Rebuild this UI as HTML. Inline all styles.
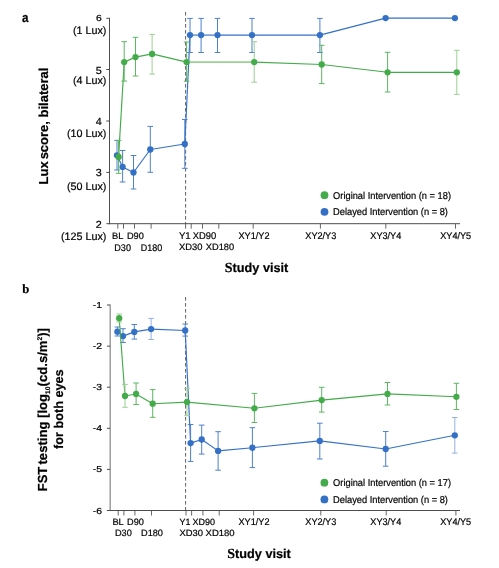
<!DOCTYPE html>
<html><head><meta charset="utf-8"><title>Figure</title>
<style>
html,body{margin:0;padding:0;background:#fff;}
svg{display:block;font-family:"Liberation Sans",Arial,sans-serif;fill:#000;}
text{stroke:#000;stroke-width:0.2px;text-rendering:geometricPrecision;}
</style></head><body>
<svg width="499" height="568" viewBox="0 0 499 568">
<rect width="499" height="568" fill="#fff"/>
<line x1="109.5" y1="17.8" x2="109.5" y2="224.2" stroke="#4d4d4d" stroke-width="1"/>
<line x1="109" y1="223.7" x2="460" y2="223.7" stroke="#4d4d4d" stroke-width="1"/>
<line x1="106.3" y1="18.3" x2="109.5" y2="18.3" stroke="#4d4d4d" stroke-width="1"/>
<line x1="106.3" y1="69.5" x2="109.5" y2="69.5" stroke="#4d4d4d" stroke-width="1"/>
<line x1="106.3" y1="121.0" x2="109.5" y2="121.0" stroke="#4d4d4d" stroke-width="1"/>
<line x1="106.3" y1="172.4" x2="109.5" y2="172.4" stroke="#4d4d4d" stroke-width="1"/>
<line x1="106.3" y1="223.7" x2="109.5" y2="223.7" stroke="#4d4d4d" stroke-width="1"/>
<line x1="117.8" y1="223.7" x2="117.8" y2="228.7" stroke="#4d4d4d" stroke-width="0.85"/>
<line x1="123.5" y1="223.7" x2="123.5" y2="228.7" stroke="#4d4d4d" stroke-width="0.85"/>
<line x1="134.5" y1="223.7" x2="134.5" y2="228.7" stroke="#4d4d4d" stroke-width="0.85"/>
<line x1="151.1" y1="223.7" x2="151.1" y2="228.7" stroke="#4d4d4d" stroke-width="0.85"/>
<line x1="185.6" y1="223.7" x2="185.6" y2="228.7" stroke="#4d4d4d" stroke-width="0.85"/>
<line x1="191.2" y1="223.7" x2="191.2" y2="228.7" stroke="#4d4d4d" stroke-width="0.85"/>
<line x1="202.5" y1="223.7" x2="202.5" y2="228.7" stroke="#4d4d4d" stroke-width="0.85"/>
<line x1="218.8" y1="223.7" x2="218.8" y2="228.7" stroke="#4d4d4d" stroke-width="0.85"/>
<line x1="253.2" y1="223.7" x2="253.2" y2="228.7" stroke="#4d4d4d" stroke-width="0.85"/>
<line x1="320.4" y1="223.7" x2="320.4" y2="228.7" stroke="#4d4d4d" stroke-width="0.85"/>
<line x1="385.8" y1="223.7" x2="385.8" y2="228.7" stroke="#4d4d4d" stroke-width="0.85"/>
<line x1="455.5" y1="223.7" x2="455.5" y2="228.7" stroke="#4d4d4d" stroke-width="0.85"/>
<line x1="185.6" y1="12" x2="185.6" y2="223.7" stroke="#444" stroke-width="0.85" stroke-dasharray="3.6 2.4"/>
<line x1="117.0" y1="155.3" x2="122.6" y2="166.9" stroke="#3471C6" stroke-width="1.15"/>
<line x1="122.6" y1="166.9" x2="133.5" y2="172.5" stroke="#3471C6" stroke-width="1.15"/>
<line x1="133.5" y1="172.5" x2="150.3" y2="149.5" stroke="#3471C6" stroke-width="1.15"/>
<line x1="150.3" y1="149.5" x2="184.8" y2="144.0" stroke="#3471C6" stroke-width="1.15"/>
<line x1="184.8" y1="144.0" x2="190.0" y2="35.1" stroke="#3471C6" stroke-width="1.15"/>
<line x1="190.0" y1="35.1" x2="201.1" y2="35.1" stroke="#3471C6" stroke-width="1.15"/>
<line x1="201.1" y1="35.1" x2="217.5" y2="35.1" stroke="#3471C6" stroke-width="1.15"/>
<line x1="217.5" y1="35.1" x2="252.0" y2="35.1" stroke="#3471C6" stroke-width="1.15"/>
<line x1="252.0" y1="35.1" x2="319.9" y2="35.1" stroke="#3471C6" stroke-width="1.15"/>
<line x1="319.9" y1="35.1" x2="385.6" y2="18.1" stroke="#3471C6" stroke-width="1.15"/>
<line x1="385.6" y1="18.1" x2="454.9" y2="18.1" stroke="#3471C6" stroke-width="1.15"/>
<path d="M117.0 140.4V170.0M114.2 140.4H119.8M114.2 170.0H119.8" stroke="#4F81CC" stroke-width="1.0" fill="none"/>
<path d="M122.6 150.5V182.0M119.8 150.5H125.39999999999999M119.8 182.0H125.39999999999999" stroke="#4F81CC" stroke-width="1.0" fill="none"/>
<path d="M133.5 155.5V189.0M130.7 155.5H136.3M130.7 189.0H136.3" stroke="#4F81CC" stroke-width="1.0" fill="none"/>
<path d="M150.3 126.4V172.3M147.5 126.4H153.10000000000002M147.5 172.3H153.10000000000002" stroke="#4F81CC" stroke-width="1.0" fill="none"/>
<path d="M184.8 119.5V168.3M182.0 119.5H187.60000000000002M182.0 168.3H187.60000000000002" stroke="#4F81CC" stroke-width="1.0" fill="none"/>
<path d="M190.0 18.4V52.5M187.2 18.4H192.8M187.2 52.5H192.8" stroke="#4F81CC" stroke-width="1.0" fill="none"/>
<path d="M201.1 18.4V52.5M198.29999999999998 18.4H203.9M198.29999999999998 52.5H203.9" stroke="#4F81CC" stroke-width="1.0" fill="none"/>
<path d="M217.5 18.4V52.5M214.7 18.4H220.3M214.7 52.5H220.3" stroke="#4F81CC" stroke-width="1.0" fill="none"/>
<path d="M252.0 18.4V52.5M249.2 18.4H254.8M249.2 52.5H254.8" stroke="#4F81CC" stroke-width="1.0" fill="none"/>
<path d="M319.9 18.4V52.5M317.09999999999997 18.4H322.7M317.09999999999997 52.5H322.7" stroke="#4F81CC" stroke-width="1.0" fill="none"/>
<circle cx="117.0" cy="155.3" r="3.15" fill="#3471C6"/>
<circle cx="122.6" cy="166.9" r="3.15" fill="#3471C6"/>
<circle cx="133.5" cy="172.5" r="3.15" fill="#3471C6"/>
<circle cx="150.3" cy="149.5" r="3.15" fill="#3471C6"/>
<circle cx="184.8" cy="144.0" r="3.15" fill="#3471C6"/>
<circle cx="190.0" cy="35.1" r="3.15" fill="#3471C6"/>
<circle cx="201.1" cy="35.1" r="3.15" fill="#3471C6"/>
<circle cx="217.5" cy="35.1" r="3.15" fill="#3471C6"/>
<circle cx="252.0" cy="35.1" r="3.15" fill="#3471C6"/>
<circle cx="319.9" cy="35.1" r="3.15" fill="#3471C6"/>
<circle cx="385.6" cy="18.1" r="3.15" fill="#3471C6"/>
<circle cx="454.9" cy="18.1" r="3.15" fill="#3471C6"/>
<line x1="118.6" y1="157.0" x2="124.2" y2="62.1" stroke="#44AB4A" stroke-width="1.15"/>
<line x1="124.2" y1="62.1" x2="135.5" y2="57.1" stroke="#44AB4A" stroke-width="1.15"/>
<line x1="135.5" y1="57.1" x2="152.1" y2="53.9" stroke="#44AB4A" stroke-width="1.15"/>
<line x1="152.1" y1="53.9" x2="186.6" y2="62.1" stroke="#44AB4A" stroke-width="1.15"/>
<line x1="186.6" y1="62.1" x2="254.2" y2="62.1" stroke="#9CD193" stroke-width="1.7"/>
<line x1="254.2" y1="62.1" x2="321.7" y2="64.5" stroke="#44AB4A" stroke-width="1.15"/>
<line x1="321.7" y1="64.5" x2="387.6" y2="72.3" stroke="#44AB4A" stroke-width="1.15"/>
<line x1="387.6" y1="72.3" x2="456.8" y2="72.3" stroke="#44AB4A" stroke-width="1.15"/>
<path d="M118.6 140.4V173.3M115.8 140.4H121.39999999999999M115.8 173.3H121.39999999999999" stroke="#5DB661" stroke-width="1.0" fill="none"/>
<path d="M124.2 41.7V81.1M121.4 41.7H127.0M121.4 81.1H127.0" stroke="#5DB661" stroke-width="1.0" fill="none"/>
<path d="M135.5 37.3V76.0M132.7 37.3H138.3M132.7 76.0H138.3" stroke="#5DB661" stroke-width="1.0" fill="none"/>
<path d="M152.1 34.4V74.1M149.29999999999998 34.4H154.9M149.29999999999998 74.1H154.9" stroke="#9CD193" stroke-width="1.0" fill="none"/>
<path d="M186.6 42.0V81.2M183.79999999999998 42.0H189.4M183.79999999999998 81.2H189.4" stroke="#5DB661" stroke-width="1.0" fill="none"/>
<path d="M254.2 41.7V82.2M251.39999999999998 41.7H257.0M251.39999999999998 82.2H257.0" stroke="#9CD193" stroke-width="1.0" fill="none"/>
<path d="M321.7 45.3V83.6M318.9 45.3H324.5M318.9 83.6H324.5" stroke="#5DB661" stroke-width="1.0" fill="none"/>
<path d="M387.6 52.3V92.0M384.8 52.3H390.40000000000003M384.8 92.0H390.40000000000003" stroke="#5DB661" stroke-width="1.0" fill="none"/>
<path d="M456.8 50.3V94.4M454.0 50.3H459.6M454.0 94.4H459.6" stroke="#9CD193" stroke-width="1.0" fill="none"/>
<circle cx="118.6" cy="157.0" r="3.15" fill="#44AB4A"/>
<circle cx="124.2" cy="62.1" r="3.15" fill="#44AB4A"/>
<circle cx="135.5" cy="57.1" r="3.15" fill="#44AB4A"/>
<circle cx="152.1" cy="53.9" r="3.15" fill="#44AB4A"/>
<circle cx="186.6" cy="62.1" r="3.15" fill="#44AB4A"/>
<circle cx="254.2" cy="62.1" r="3.15" fill="#44AB4A"/>
<circle cx="321.7" cy="64.5" r="3.15" fill="#44AB4A"/>
<circle cx="387.6" cy="72.3" r="3.15" fill="#44AB4A"/>
<circle cx="456.8" cy="72.3" r="3.15" fill="#44AB4A"/>
<text transform="translate(22.1,21.7) scale(0.88,1)" font-size="13.18" text-anchor="start" font-weight="bold" stroke="none" >a</text>
<text transform="translate(101.7,21.1) scale(1.19,1)" font-size="8.74" text-anchor="end" font-weight="normal"  stroke-width="0.1">6</text>
<text transform="translate(106.4,34.0) scale(1,1)" font-size="10.75" text-anchor="end" font-weight="normal"  stroke-width="0.1">(1 Lux)</text>
<text transform="translate(101.8,73.5) scale(1.05,1)" font-size="10.29" text-anchor="end" font-weight="normal"  stroke-width="0.1">5</text>
<text transform="translate(106.4,84.3) scale(1,1)" font-size="10.75" text-anchor="end" font-weight="normal"  stroke-width="0.1">(4 Lux)</text>
<text transform="translate(101.8,124.6) scale(1.05,1)" font-size="10.29" text-anchor="end" font-weight="normal"  stroke-width="0.1">4</text>
<text transform="translate(106.4,136.9) scale(1,1)" font-size="10.75" text-anchor="end" font-weight="normal"  stroke-width="0.1">(10 Lux)</text>
<text transform="translate(101.8,176.4) scale(1.05,1)" font-size="10.29" text-anchor="end" font-weight="normal"  stroke-width="0.1">3</text>
<text transform="translate(106.4,189.8) scale(1,1)" font-size="10.75" text-anchor="end" font-weight="normal"  stroke-width="0.1">(50 Lux)</text>
<text transform="translate(101.8,227.7) scale(1.05,1)" font-size="10.29" text-anchor="end" font-weight="normal"  stroke-width="0.1">2</text>
<text transform="translate(106.4,239.6) scale(1,1)" font-size="10.75" text-anchor="end" font-weight="normal"  stroke-width="0.1">(125 Lux)</text>
<text transform="translate(112.0,238.8) scale(1.0108695652173914,1)" font-size="9.2" text-anchor="start" font-weight="normal"  >BL</text>
<text transform="translate(126.9,238.8) scale(1.0,1)" font-size="9.2" text-anchor="start" font-weight="normal"  >D90</text>
<text transform="translate(114.3,250.9) scale(0.9479166666666666,1)" font-size="9.6" text-anchor="start" font-weight="normal"  >D30</text>
<text transform="translate(140.7,250.9) scale(0.9375,1)" font-size="9.6" text-anchor="start" font-weight="normal"  >D180</text>
<text transform="translate(178.9,239.10000000000002) scale(0.9897959183673468,1)" font-size="9.8" text-anchor="start" font-weight="normal"  >Y1</text>
<text transform="translate(192.7,239.10000000000002) scale(0.9591836734693877,1)" font-size="9.8" text-anchor="start" font-weight="normal"  >XD90</text>
<text transform="translate(179.0,250.4) scale(1.0217391304347827,1)" font-size="9.2" text-anchor="start" font-weight="normal"  >XD30</text>
<text transform="translate(205.8,250.4) scale(1.0108695652173914,1)" font-size="9.2" text-anchor="start" font-weight="normal"  >XD180</text>
<text transform="translate(238.5,238.8) scale(0.9531250000000001,1)" font-size="9.6" text-anchor="start" font-weight="normal"  >XY1/Y2</text>
<text transform="translate(305.3,238.8) scale(0.9531250000000001,1)" font-size="9.6" text-anchor="start" font-weight="normal"  >XY2/Y3</text>
<text transform="translate(370.3,238.8) scale(0.9531250000000001,1)" font-size="9.6" text-anchor="start" font-weight="normal"  >XY3/Y4</text>
<text transform="translate(440.2,238.8) scale(0.9531250000000001,1)" font-size="9.6" text-anchor="start" font-weight="normal"  >XY4/Y5</text>
<text transform="translate(224.8,271.6) scale(1,1)" font-size="12.7" text-anchor="start" font-weight="bold" stroke="none" ><tspan font-family="Liberation Serif, serif" font-size="14">S</tspan>tudy visit</text>
<text transform="translate(47.9,184.4) rotate(-90)" font-size="13" font-weight="bold" stroke="none">Lux <tspan dx="-1.7">score, bilateral</tspan></text>
<circle cx="324.5" cy="195.2" r="3.9" fill="#44AB4A"/><circle cx="324.5" cy="211.8" r="3.9" fill="#3471C6"/>
<text transform="translate(333.1,198.5) scale(0.94,1)" font-size="9.89" text-anchor="start" font-weight="normal"  stroke-width="0.1">Original Intervention (n = 18)</text>
<text transform="translate(333.1,214.8) scale(0.94,1)" font-size="9.89" text-anchor="start" font-weight="normal"  stroke-width="0.1">Delayed Intervention (n = 8)</text>
<line x1="110.15" y1="304.5" x2="110.15" y2="511.0" stroke="#5e5e5e" stroke-width="0.9"/>
<line x1="109" y1="510.5" x2="460" y2="510.5" stroke="#4d4d4d" stroke-width="1"/>
<line x1="106.95" y1="305.0" x2="110.15" y2="305.0" stroke="#4d4d4d" stroke-width="1"/>
<line x1="106.95" y1="346.1" x2="110.15" y2="346.1" stroke="#4d4d4d" stroke-width="1"/>
<line x1="106.95" y1="387.2" x2="110.15" y2="387.2" stroke="#4d4d4d" stroke-width="1"/>
<line x1="106.95" y1="428.3" x2="110.15" y2="428.3" stroke="#4d4d4d" stroke-width="1"/>
<line x1="106.95" y1="469.4" x2="110.15" y2="469.4" stroke="#4d4d4d" stroke-width="1"/>
<line x1="106.95" y1="510.5" x2="110.15" y2="510.5" stroke="#4d4d4d" stroke-width="1"/>
<line x1="118.2" y1="510.5" x2="118.2" y2="515.5" stroke="#4d4d4d" stroke-width="0.85"/>
<line x1="123.9" y1="510.5" x2="123.9" y2="515.5" stroke="#4d4d4d" stroke-width="0.85"/>
<line x1="134.9" y1="510.5" x2="134.9" y2="515.5" stroke="#4d4d4d" stroke-width="0.85"/>
<line x1="151.5" y1="510.5" x2="151.5" y2="515.5" stroke="#4d4d4d" stroke-width="0.85"/>
<line x1="186.0" y1="510.5" x2="186.0" y2="515.5" stroke="#4d4d4d" stroke-width="0.85"/>
<line x1="191.6" y1="510.5" x2="191.6" y2="515.5" stroke="#4d4d4d" stroke-width="0.85"/>
<line x1="202.9" y1="510.5" x2="202.9" y2="515.5" stroke="#4d4d4d" stroke-width="0.85"/>
<line x1="219.20000000000002" y1="510.5" x2="219.20000000000002" y2="515.5" stroke="#4d4d4d" stroke-width="0.85"/>
<line x1="253.6" y1="510.5" x2="253.6" y2="515.5" stroke="#4d4d4d" stroke-width="0.85"/>
<line x1="320.79999999999995" y1="510.5" x2="320.79999999999995" y2="515.5" stroke="#4d4d4d" stroke-width="0.85"/>
<line x1="386.2" y1="510.5" x2="386.2" y2="515.5" stroke="#4d4d4d" stroke-width="0.85"/>
<line x1="455.9" y1="510.5" x2="455.9" y2="515.5" stroke="#4d4d4d" stroke-width="0.85"/>
<line x1="185.6" y1="297" x2="185.6" y2="510.5" stroke="#444" stroke-width="0.85" stroke-dasharray="3.6 2.4"/>
<line x1="117.4" y1="331.7" x2="123.0" y2="336.1" stroke="#3471C6" stroke-width="1.15"/>
<line x1="123.0" y1="336.1" x2="134.3" y2="331.9" stroke="#3471C6" stroke-width="1.15"/>
<line x1="134.3" y1="331.9" x2="151.1" y2="329.1" stroke="#3471C6" stroke-width="1.15"/>
<line x1="151.1" y1="329.1" x2="185.2" y2="330.5" stroke="#3471C6" stroke-width="1.15"/>
<line x1="185.2" y1="330.5" x2="190.6" y2="443.1" stroke="#3471C6" stroke-width="1.15"/>
<line x1="190.6" y1="443.1" x2="201.7" y2="439.5" stroke="#3471C6" stroke-width="1.15"/>
<line x1="201.7" y1="439.5" x2="218.1" y2="450.9" stroke="#3471C6" stroke-width="1.15"/>
<line x1="218.1" y1="450.9" x2="252.4" y2="447.7" stroke="#3471C6" stroke-width="1.15"/>
<line x1="252.4" y1="447.7" x2="319.8" y2="440.9" stroke="#3471C6" stroke-width="1.15"/>
<line x1="319.8" y1="440.9" x2="385.7" y2="449.0" stroke="#3471C6" stroke-width="1.15"/>
<line x1="385.7" y1="449.0" x2="454.8" y2="435.3" stroke="#3471C6" stroke-width="1.15"/>
<path d="M117.4 327.0V336.0M114.60000000000001 327.0H120.2M114.60000000000001 336.0H120.2" stroke="#4F81CC" stroke-width="1.0" fill="none"/>
<path d="M123.0 328.7V342.5M120.2 328.7H125.8M120.2 342.5H125.8" stroke="#4F81CC" stroke-width="1.0" fill="none"/>
<path d="M134.3 324.5V339.1M131.5 324.5H137.10000000000002M131.5 339.1H137.10000000000002" stroke="#4F81CC" stroke-width="1.0" fill="none"/>
<path d="M151.1 318.4V339.5M148.29999999999998 318.4H153.9M148.29999999999998 339.5H153.9" stroke="#94B1DE" stroke-width="1.0" fill="none"/>
<path d="M185.2 324.0V336.1M182.39999999999998 324.0H188.0M182.39999999999998 336.1H188.0" stroke="#4F81CC" stroke-width="1.0" fill="none"/>
<path d="M190.6 424.5V461.4M187.79999999999998 424.5H193.4M187.79999999999998 461.4H193.4" stroke="#4F81CC" stroke-width="1.0" fill="none"/>
<path d="M201.7 425.1V454.1M198.89999999999998 425.1H204.5M198.89999999999998 454.1H204.5" stroke="#4F81CC" stroke-width="1.0" fill="none"/>
<path d="M218.1 431.7V470.2M215.29999999999998 431.7H220.9M215.29999999999998 470.2H220.9" stroke="#4F81CC" stroke-width="1.0" fill="none"/>
<path d="M252.4 427.7V467.6M249.6 427.7H255.20000000000002M249.6 467.6H255.20000000000002" stroke="#4F81CC" stroke-width="1.0" fill="none"/>
<path d="M319.8 423.2V459.0M317.0 423.2H322.6M317.0 459.0H322.6" stroke="#4F81CC" stroke-width="1.0" fill="none"/>
<path d="M385.7 431.5V466.2M382.9 431.5H388.5M382.9 466.2H388.5" stroke="#4F81CC" stroke-width="1.0" fill="none"/>
<path d="M454.8 417.5V453.1M452.0 417.5H457.6M452.0 453.1H457.6" stroke="#94B1DE" stroke-width="1.0" fill="none"/>
<circle cx="117.4" cy="331.7" r="3.15" fill="#3471C6"/>
<circle cx="123.0" cy="336.1" r="3.15" fill="#3471C6"/>
<circle cx="134.3" cy="331.9" r="3.15" fill="#3471C6"/>
<circle cx="151.1" cy="329.1" r="3.15" fill="#3471C6"/>
<circle cx="185.2" cy="330.5" r="3.15" fill="#3471C6"/>
<circle cx="190.6" cy="443.1" r="3.15" fill="#3471C6"/>
<circle cx="201.7" cy="439.5" r="3.15" fill="#3471C6"/>
<circle cx="218.1" cy="450.9" r="3.15" fill="#3471C6"/>
<circle cx="252.4" cy="447.7" r="3.15" fill="#3471C6"/>
<circle cx="319.8" cy="440.9" r="3.15" fill="#3471C6"/>
<circle cx="385.7" cy="449.0" r="3.15" fill="#3471C6"/>
<circle cx="454.8" cy="435.3" r="3.15" fill="#3471C6"/>
<line x1="119.2" y1="318.2" x2="125.0" y2="396.0" stroke="#44AB4A" stroke-width="1.15"/>
<line x1="125.0" y1="396.0" x2="136.1" y2="394.0" stroke="#44AB4A" stroke-width="1.15"/>
<line x1="136.1" y1="394.0" x2="152.7" y2="403.7" stroke="#44AB4A" stroke-width="1.15"/>
<line x1="152.7" y1="403.7" x2="187.0" y2="402.1" stroke="#44AB4A" stroke-width="1.15"/>
<line x1="187.0" y1="402.1" x2="254.4" y2="408.3" stroke="#44AB4A" stroke-width="1.15"/>
<line x1="254.4" y1="408.3" x2="321.7" y2="400.1" stroke="#44AB4A" stroke-width="1.15"/>
<line x1="321.7" y1="400.1" x2="387.5" y2="393.9" stroke="#44AB4A" stroke-width="1.15"/>
<line x1="387.5" y1="393.9" x2="456.4" y2="396.8" stroke="#44AB4A" stroke-width="1.15"/>
<path d="M119.2 314.0V322.0M116.4 314.0H122.0M116.4 322.0H122.0" stroke="#9CD193" stroke-width="1.0" fill="none"/>
<path d="M125.0 384.4V407.3M122.2 384.4H127.8M122.2 407.3H127.8" stroke="#9CD193" stroke-width="1.0" fill="none"/>
<path d="M136.1 383.0V404.5M133.29999999999998 383.0H138.9M133.29999999999998 404.5H138.9" stroke="#5DB661" stroke-width="1.0" fill="none"/>
<path d="M152.7 389.6V417.3M149.89999999999998 389.6H155.5M149.89999999999998 417.3H155.5" stroke="#5DB661" stroke-width="1.0" fill="none"/>
<path d="M187.0 388.4V415.7M184.2 388.4H189.8M184.2 415.7H189.8" stroke="#9CD193" stroke-width="1.0" fill="none"/>
<path d="M254.4 393.4V422.5M251.6 393.4H257.2M251.6 422.5H257.2" stroke="#5DB661" stroke-width="1.0" fill="none"/>
<path d="M321.7 387.3V412.1M318.9 387.3H324.5M318.9 412.1H324.5" stroke="#5DB661" stroke-width="1.0" fill="none"/>
<path d="M387.5 382.5V405.0M384.7 382.5H390.3M384.7 405.0H390.3" stroke="#5DB661" stroke-width="1.0" fill="none"/>
<path d="M456.4 383.3V409.5M453.59999999999997 383.3H459.2M453.59999999999997 409.5H459.2" stroke="#5DB661" stroke-width="1.0" fill="none"/>
<circle cx="119.2" cy="318.2" r="3.15" fill="#44AB4A"/>
<circle cx="125.0" cy="396.0" r="3.15" fill="#44AB4A"/>
<circle cx="136.1" cy="394.0" r="3.15" fill="#44AB4A"/>
<circle cx="152.7" cy="403.7" r="3.15" fill="#44AB4A"/>
<circle cx="187.0" cy="402.1" r="3.15" fill="#44AB4A"/>
<circle cx="254.4" cy="408.3" r="3.15" fill="#44AB4A"/>
<circle cx="321.7" cy="400.1" r="3.15" fill="#44AB4A"/>
<circle cx="387.5" cy="393.9" r="3.15" fill="#44AB4A"/>
<circle cx="456.4" cy="396.8" r="3.15" fill="#44AB4A"/>
<text transform="translate(22.2,292.6) scale(1,1)" font-size="12.7" text-anchor="start" font-weight="bold" stroke="none" font-family="Liberation Serif, serif">b</text>
<text transform="translate(102.0,308.0) scale(1.19,1)" font-size="8.74" text-anchor="end" font-weight="normal"  stroke-width="0.15">-1</text>
<text transform="translate(102.0,349.1) scale(1.19,1)" font-size="8.74" text-anchor="end" font-weight="normal"  stroke-width="0.15">-2</text>
<text transform="translate(102.0,390.2) scale(1.19,1)" font-size="8.74" text-anchor="end" font-weight="normal"  stroke-width="0.15">-3</text>
<text transform="translate(102.0,431.3) scale(1.19,1)" font-size="8.74" text-anchor="end" font-weight="normal"  stroke-width="0.15">-4</text>
<text transform="translate(102.0,472.4) scale(1.19,1)" font-size="8.74" text-anchor="end" font-weight="normal"  stroke-width="0.15">-5</text>
<text transform="translate(102.0,513.5) scale(1.19,1)" font-size="8.74" text-anchor="end" font-weight="normal"  stroke-width="0.15">-6</text>
<text transform="translate(112.4,524.9) scale(1.0108695652173914,1)" font-size="9.2" text-anchor="start" font-weight="normal"  >BL</text>
<text transform="translate(127.0,524.9) scale(1.0,1)" font-size="9.2" text-anchor="start" font-weight="normal"  >D90</text>
<text transform="translate(114.9,536.4) scale(1.0,1)" font-size="9.2" text-anchor="start" font-weight="normal"  >D30</text>
<text transform="translate(141.0,536.4) scale(1.0,1)" font-size="9.2" text-anchor="start" font-weight="normal"  >D180</text>
<text transform="translate(179.5,524.9) scale(0.9888888888888889,1)" font-size="9.0" text-anchor="start" font-weight="normal"  >Y1</text>
<text transform="translate(192.6,524.9) scale(1.0,1)" font-size="9.0" text-anchor="start" font-weight="normal"  >XD90</text>
<text transform="translate(179.5,536.4) scale(1.0444444444444445,1)" font-size="9.0" text-anchor="start" font-weight="normal"  >XD30</text>
<text transform="translate(205.6,536.4) scale(1.0555555555555556,1)" font-size="9.0" text-anchor="start" font-weight="normal"  >XD180</text>
<text transform="translate(238.5,524.9) scale(0.9531250000000001,1)" font-size="9.6" text-anchor="start" font-weight="normal"  >XY1/Y2</text>
<text transform="translate(305.3,524.9) scale(0.9531250000000001,1)" font-size="9.6" text-anchor="start" font-weight="normal"  >XY2/Y3</text>
<text transform="translate(370.3,524.9) scale(0.9531250000000001,1)" font-size="9.6" text-anchor="start" font-weight="normal"  >XY3/Y4</text>
<text transform="translate(440.2,524.9) scale(0.9531250000000001,1)" font-size="9.6" text-anchor="start" font-weight="normal"  >XY4/Y5</text>
<text transform="translate(227.3,557.5) scale(1,1)" font-size="12.7" text-anchor="start" font-weight="bold" stroke="none" ><tspan font-family="Liberation Serif, serif" font-size="14">S</tspan>tudy visit</text>
<text transform="translate(46.9,409.7) rotate(-90)" font-size="13.1" font-weight="bold" stroke="none" text-anchor="middle">FST <tspan dx="-1.5">testing [log</tspan><tspan font-size="6.8" dy="2.6">10</tspan><tspan dy="-2.6">(cd.s/m</tspan><tspan font-size="6.8" dy="-4.6">2</tspan><tspan dy="4.6">)]</tspan></text>
<text transform="translate(63.1,409.2) rotate(-90)" font-size="12.7" font-weight="bold" stroke="none" text-anchor="middle">for both eyes</text>
<circle cx="324.4" cy="482.7" r="3.9" fill="#44AB4A"/><circle cx="324.4" cy="499.4" r="3.9" fill="#3471C6"/>
<text transform="translate(333.1,486.0) scale(0.94,1)" font-size="9.89" text-anchor="start" font-weight="normal"  stroke-width="0.1">Original Intervention (n = 17)</text>
<text transform="translate(333.1,502.9) scale(0.94,1)" font-size="9.89" text-anchor="start" font-weight="normal"  stroke-width="0.1">Delayed Intervention (n = 8)</text>
</svg></body></html>
